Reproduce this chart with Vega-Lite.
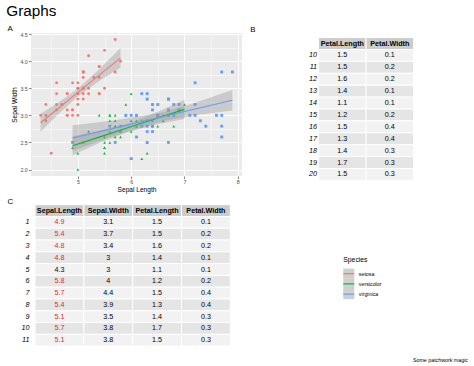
{
  "$schema": "https://vega.github.io/schema/vega-lite/v6.json",
  "background": "white",
  "padding": {"left": 6, "top": 3, "right": 0, "bottom": 0},
  "config": {
    "font": "Liberation Sans",
    "view": {"stroke": null},
    "title": {"fontWeight": "normal", "color": "black", "frame": "group"}
  },
  "datasets": {
    "iris": [
      {"Species":"setosa","SepalLength":5.1,"SepalWidth":3.5},{"Species":"setosa","SepalLength":4.9,"SepalWidth":3.0},{"Species":"setosa","SepalLength":4.7,"SepalWidth":3.2},{"Species":"setosa","SepalLength":4.6,"SepalWidth":3.1},{"Species":"setosa","SepalLength":5.0,"SepalWidth":3.6},
      {"Species":"setosa","SepalLength":5.4,"SepalWidth":3.9},{"Species":"setosa","SepalLength":4.6,"SepalWidth":3.4},{"Species":"setosa","SepalLength":5.0,"SepalWidth":3.4},{"Species":"setosa","SepalLength":4.4,"SepalWidth":2.9},{"Species":"setosa","SepalLength":4.9,"SepalWidth":3.1},
      {"Species":"setosa","SepalLength":5.4,"SepalWidth":3.7},{"Species":"setosa","SepalLength":4.8,"SepalWidth":3.4},{"Species":"setosa","SepalLength":4.8,"SepalWidth":3.0},{"Species":"setosa","SepalLength":4.3,"SepalWidth":3.0},{"Species":"setosa","SepalLength":5.8,"SepalWidth":4.0},
      {"Species":"setosa","SepalLength":5.7,"SepalWidth":4.4},{"Species":"setosa","SepalLength":5.4,"SepalWidth":3.9},{"Species":"setosa","SepalLength":5.1,"SepalWidth":3.5},{"Species":"setosa","SepalLength":5.7,"SepalWidth":3.8},{"Species":"setosa","SepalLength":5.1,"SepalWidth":3.8},
      {"Species":"setosa","SepalLength":5.4,"SepalWidth":3.4},{"Species":"setosa","SepalLength":5.1,"SepalWidth":3.7},{"Species":"setosa","SepalLength":4.6,"SepalWidth":3.6},{"Species":"setosa","SepalLength":5.1,"SepalWidth":3.3},{"Species":"setosa","SepalLength":4.8,"SepalWidth":3.4},
      {"Species":"setosa","SepalLength":5.0,"SepalWidth":3.0},{"Species":"setosa","SepalLength":5.0,"SepalWidth":3.4},{"Species":"setosa","SepalLength":5.2,"SepalWidth":3.5},{"Species":"setosa","SepalLength":5.2,"SepalWidth":3.4},{"Species":"setosa","SepalLength":4.7,"SepalWidth":3.2},
      {"Species":"setosa","SepalLength":4.8,"SepalWidth":3.1},{"Species":"setosa","SepalLength":5.4,"SepalWidth":3.4},{"Species":"setosa","SepalLength":5.2,"SepalWidth":4.1},{"Species":"setosa","SepalLength":5.5,"SepalWidth":4.2},{"Species":"setosa","SepalLength":4.9,"SepalWidth":3.1},
      {"Species":"setosa","SepalLength":5.0,"SepalWidth":3.2},{"Species":"setosa","SepalLength":5.5,"SepalWidth":3.5},{"Species":"setosa","SepalLength":4.9,"SepalWidth":3.6},{"Species":"setosa","SepalLength":4.4,"SepalWidth":3.0},{"Species":"setosa","SepalLength":5.1,"SepalWidth":3.4},
      {"Species":"setosa","SepalLength":5.0,"SepalWidth":3.5},{"Species":"setosa","SepalLength":4.5,"SepalWidth":2.3},{"Species":"setosa","SepalLength":4.4,"SepalWidth":3.2},{"Species":"setosa","SepalLength":5.0,"SepalWidth":3.5},{"Species":"setosa","SepalLength":5.1,"SepalWidth":3.8},
      {"Species":"setosa","SepalLength":4.8,"SepalWidth":3.0},{"Species":"setosa","SepalLength":5.1,"SepalWidth":3.8},{"Species":"setosa","SepalLength":4.6,"SepalWidth":3.2},{"Species":"setosa","SepalLength":5.3,"SepalWidth":3.7},{"Species":"setosa","SepalLength":5.0,"SepalWidth":3.3},
      {"Species":"versicolor","SepalLength":7.0,"SepalWidth":3.2},{"Species":"versicolor","SepalLength":6.4,"SepalWidth":3.2},{"Species":"versicolor","SepalLength":6.9,"SepalWidth":3.1},{"Species":"versicolor","SepalLength":5.5,"SepalWidth":2.3},{"Species":"versicolor","SepalLength":6.5,"SepalWidth":2.8},
      {"Species":"versicolor","SepalLength":5.7,"SepalWidth":2.8},{"Species":"versicolor","SepalLength":6.3,"SepalWidth":3.3},{"Species":"versicolor","SepalLength":4.9,"SepalWidth":2.4},{"Species":"versicolor","SepalLength":6.6,"SepalWidth":2.9},{"Species":"versicolor","SepalLength":5.2,"SepalWidth":2.7},
      {"Species":"versicolor","SepalLength":5.0,"SepalWidth":2.0},{"Species":"versicolor","SepalLength":5.9,"SepalWidth":3.0},{"Species":"versicolor","SepalLength":6.0,"SepalWidth":2.2},{"Species":"versicolor","SepalLength":6.1,"SepalWidth":2.9},{"Species":"versicolor","SepalLength":5.6,"SepalWidth":2.9},
      {"Species":"versicolor","SepalLength":6.7,"SepalWidth":3.1},{"Species":"versicolor","SepalLength":5.6,"SepalWidth":3.0},{"Species":"versicolor","SepalLength":5.8,"SepalWidth":2.7},{"Species":"versicolor","SepalLength":6.2,"SepalWidth":2.2},{"Species":"versicolor","SepalLength":5.6,"SepalWidth":2.5},
      {"Species":"versicolor","SepalLength":5.9,"SepalWidth":3.2},{"Species":"versicolor","SepalLength":6.1,"SepalWidth":2.8},{"Species":"versicolor","SepalLength":6.3,"SepalWidth":2.5},{"Species":"versicolor","SepalLength":6.1,"SepalWidth":2.8},{"Species":"versicolor","SepalLength":6.4,"SepalWidth":2.9},
      {"Species":"versicolor","SepalLength":6.6,"SepalWidth":3.0},{"Species":"versicolor","SepalLength":6.8,"SepalWidth":2.8},{"Species":"versicolor","SepalLength":6.7,"SepalWidth":3.0},{"Species":"versicolor","SepalLength":6.0,"SepalWidth":2.9},{"Species":"versicolor","SepalLength":5.7,"SepalWidth":2.6},
      {"Species":"versicolor","SepalLength":5.5,"SepalWidth":2.4},{"Species":"versicolor","SepalLength":5.5,"SepalWidth":2.4},{"Species":"versicolor","SepalLength":5.8,"SepalWidth":2.7},{"Species":"versicolor","SepalLength":6.0,"SepalWidth":2.7},{"Species":"versicolor","SepalLength":5.4,"SepalWidth":3.0},
      {"Species":"versicolor","SepalLength":6.0,"SepalWidth":3.4},{"Species":"versicolor","SepalLength":6.7,"SepalWidth":3.1},{"Species":"versicolor","SepalLength":6.3,"SepalWidth":2.3},{"Species":"versicolor","SepalLength":5.6,"SepalWidth":3.0},{"Species":"versicolor","SepalLength":5.5,"SepalWidth":2.5},
      {"Species":"versicolor","SepalLength":5.5,"SepalWidth":2.6},{"Species":"versicolor","SepalLength":6.1,"SepalWidth":3.0},{"Species":"versicolor","SepalLength":5.8,"SepalWidth":2.6},{"Species":"versicolor","SepalLength":5.0,"SepalWidth":2.3},{"Species":"versicolor","SepalLength":5.6,"SepalWidth":2.7},
      {"Species":"versicolor","SepalLength":5.7,"SepalWidth":3.0},{"Species":"versicolor","SepalLength":5.7,"SepalWidth":2.9},{"Species":"versicolor","SepalLength":6.2,"SepalWidth":2.9},{"Species":"versicolor","SepalLength":5.1,"SepalWidth":2.5},{"Species":"versicolor","SepalLength":5.7,"SepalWidth":2.8},
      {"Species":"virginica","SepalLength":6.3,"SepalWidth":3.3},{"Species":"virginica","SepalLength":5.8,"SepalWidth":2.7},{"Species":"virginica","SepalLength":7.1,"SepalWidth":3.0},{"Species":"virginica","SepalLength":6.3,"SepalWidth":2.9},{"Species":"virginica","SepalLength":6.5,"SepalWidth":3.0},
      {"Species":"virginica","SepalLength":7.6,"SepalWidth":3.0},{"Species":"virginica","SepalLength":4.9,"SepalWidth":2.5},{"Species":"virginica","SepalLength":7.3,"SepalWidth":2.9},{"Species":"virginica","SepalLength":6.7,"SepalWidth":2.5},{"Species":"virginica","SepalLength":7.2,"SepalWidth":3.6},
      {"Species":"virginica","SepalLength":6.5,"SepalWidth":3.2},{"Species":"virginica","SepalLength":6.4,"SepalWidth":2.7},{"Species":"virginica","SepalLength":6.8,"SepalWidth":3.0},{"Species":"virginica","SepalLength":5.7,"SepalWidth":2.5},{"Species":"virginica","SepalLength":5.8,"SepalWidth":2.8},
      {"Species":"virginica","SepalLength":6.4,"SepalWidth":3.2},{"Species":"virginica","SepalLength":6.5,"SepalWidth":3.0},{"Species":"virginica","SepalLength":7.7,"SepalWidth":3.8},{"Species":"virginica","SepalLength":7.7,"SepalWidth":2.6},{"Species":"virginica","SepalLength":6.0,"SepalWidth":2.2},
      {"Species":"virginica","SepalLength":6.9,"SepalWidth":3.2},{"Species":"virginica","SepalLength":5.6,"SepalWidth":2.8},{"Species":"virginica","SepalLength":7.7,"SepalWidth":2.8},{"Species":"virginica","SepalLength":6.3,"SepalWidth":2.7},{"Species":"virginica","SepalLength":6.7,"SepalWidth":3.3},
      {"Species":"virginica","SepalLength":7.2,"SepalWidth":3.2},{"Species":"virginica","SepalLength":6.2,"SepalWidth":2.8},{"Species":"virginica","SepalLength":6.1,"SepalWidth":3.0},{"Species":"virginica","SepalLength":6.4,"SepalWidth":2.8},{"Species":"virginica","SepalLength":7.2,"SepalWidth":3.0},
      {"Species":"virginica","SepalLength":7.4,"SepalWidth":2.8},{"Species":"virginica","SepalLength":7.9,"SepalWidth":3.8},{"Species":"virginica","SepalLength":6.4,"SepalWidth":2.8},{"Species":"virginica","SepalLength":6.3,"SepalWidth":2.8},{"Species":"virginica","SepalLength":6.1,"SepalWidth":2.6},
      {"Species":"virginica","SepalLength":7.7,"SepalWidth":3.0},{"Species":"virginica","SepalLength":6.3,"SepalWidth":3.4},{"Species":"virginica","SepalLength":6.4,"SepalWidth":3.1},{"Species":"virginica","SepalLength":6.0,"SepalWidth":3.0},{"Species":"virginica","SepalLength":6.9,"SepalWidth":3.1},
      {"Species":"virginica","SepalLength":6.7,"SepalWidth":3.1},{"Species":"virginica","SepalLength":6.9,"SepalWidth":3.1},{"Species":"virginica","SepalLength":5.8,"SepalWidth":2.7},{"Species":"virginica","SepalLength":6.8,"SepalWidth":3.2},{"Species":"virginica","SepalLength":6.7,"SepalWidth":3.3},
      {"Species":"virginica","SepalLength":6.7,"SepalWidth":3.0},{"Species":"virginica","SepalLength":6.3,"SepalWidth":2.5},{"Species":"virginica","SepalLength":6.5,"SepalWidth":3.0},{"Species":"virginica","SepalLength":6.2,"SepalWidth":3.4},{"Species":"virginica","SepalLength":5.9,"SepalWidth":3.0}
    ],
    "band": [
      {"Species":"setosa","SepalLength":4.3,"SepalWidth":2.864,"lo":2.699,"hi":3.029},
      {"Species":"setosa","SepalLength":4.6,"SepalWidth":3.104,"lo":2.992,"hi":3.216},
      {"Species":"setosa","SepalLength":5.0,"SepalWidth":3.423,"lo":3.350,"hi":3.496},
      {"Species":"setosa","SepalLength":5.4,"SepalWidth":3.743,"lo":3.632,"hi":3.853},
      {"Species":"setosa","SepalLength":5.8,"SepalWidth":4.062,"lo":3.881,"hi":4.243},
      {"Species":"versicolor","SepalLength":4.9,"SepalWidth":2.439,"lo":2.265,"hi":2.612},
      {"Species":"versicolor","SepalLength":5.4,"SepalWidth":2.598,"lo":2.487,"hi":2.710},
      {"Species":"versicolor","SepalLength":5.95,"SepalWidth":2.774,"lo":2.697,"hi":2.851},
      {"Species":"versicolor","SepalLength":6.5,"SepalWidth":2.950,"lo":2.836,"hi":3.064},
      {"Species":"versicolor","SepalLength":7.0,"SepalWidth":3.110,"lo":2.933,"hi":3.287},
      {"Species":"virginica","SepalLength":4.9,"SepalWidth":2.583,"lo":2.347,"hi":2.818},
      {"Species":"virginica","SepalLength":5.7,"SepalWidth":2.768,"lo":2.626,"hi":2.911},
      {"Species":"virginica","SepalLength":6.6,"SepalWidth":2.977,"lo":2.894,"hi":3.059},
      {"Species":"virginica","SepalLength":7.2,"SepalWidth":3.116,"lo":3.001,"hi":3.231},
      {"Species":"virginica","SepalLength":7.9,"SepalWidth":3.278,"lo":3.088,"hi":3.469}
    ],
    "tableB": [
      {"row":"10","col":"Petal.Length","val":1.5},{"row":"10","col":"Petal.Width","val":0.1},
      {"row":"11","col":"Petal.Length","val":1.5},{"row":"11","col":"Petal.Width","val":0.2},
      {"row":"12","col":"Petal.Length","val":1.6},{"row":"12","col":"Petal.Width","val":0.2},
      {"row":"13","col":"Petal.Length","val":1.4},{"row":"13","col":"Petal.Width","val":0.1},
      {"row":"14","col":"Petal.Length","val":1.1},{"row":"14","col":"Petal.Width","val":0.1},
      {"row":"15","col":"Petal.Length","val":1.2},{"row":"15","col":"Petal.Width","val":0.2},
      {"row":"16","col":"Petal.Length","val":1.5},{"row":"16","col":"Petal.Width","val":0.4},
      {"row":"17","col":"Petal.Length","val":1.3},{"row":"17","col":"Petal.Width","val":0.4},
      {"row":"18","col":"Petal.Length","val":1.4},{"row":"18","col":"Petal.Width","val":0.3},
      {"row":"19","col":"Petal.Length","val":1.7},{"row":"19","col":"Petal.Width","val":0.3},
      {"row":"20","col":"Petal.Length","val":1.5},{"row":"20","col":"Petal.Width","val":0.3}
    ],
    "tableC": [
      {"row":"1","col":"Sepal.Length","val":4.9},{"row":"1","col":"Sepal.Width","val":3.1},{"row":"1","col":"Petal.Length","val":1.5},{"row":"1","col":"Petal.Width","val":0.1},
      {"row":"2","col":"Sepal.Length","val":5.4},{"row":"2","col":"Sepal.Width","val":3.7},{"row":"2","col":"Petal.Length","val":1.5},{"row":"2","col":"Petal.Width","val":0.2},
      {"row":"3","col":"Sepal.Length","val":4.8},{"row":"3","col":"Sepal.Width","val":3.4},{"row":"3","col":"Petal.Length","val":1.6},{"row":"3","col":"Petal.Width","val":0.2},
      {"row":"4","col":"Sepal.Length","val":4.8},{"row":"4","col":"Sepal.Width","val":3},{"row":"4","col":"Petal.Length","val":1.4},{"row":"4","col":"Petal.Width","val":0.1},
      {"row":"5","col":"Sepal.Length","val":4.3},{"row":"5","col":"Sepal.Width","val":3},{"row":"5","col":"Petal.Length","val":1.1},{"row":"5","col":"Petal.Width","val":0.1},
      {"row":"6","col":"Sepal.Length","val":5.8},{"row":"6","col":"Sepal.Width","val":4},{"row":"6","col":"Petal.Length","val":1.2},{"row":"6","col":"Petal.Width","val":0.2},
      {"row":"7","col":"Sepal.Length","val":5.7},{"row":"7","col":"Sepal.Width","val":4.4},{"row":"7","col":"Petal.Length","val":1.5},{"row":"7","col":"Petal.Width","val":0.4},
      {"row":"8","col":"Sepal.Length","val":5.4},{"row":"8","col":"Sepal.Width","val":3.9},{"row":"8","col":"Petal.Length","val":1.3},{"row":"8","col":"Petal.Width","val":0.4},
      {"row":"9","col":"Sepal.Length","val":5.1},{"row":"9","col":"Sepal.Width","val":3.5},{"row":"9","col":"Petal.Length","val":1.4},{"row":"9","col":"Petal.Width","val":0.3},
      {"row":"10","col":"Sepal.Length","val":5.7},{"row":"10","col":"Sepal.Width","val":3.8},{"row":"10","col":"Petal.Length","val":1.7},{"row":"10","col":"Petal.Width","val":0.3},
      {"row":"11","col":"Sepal.Length","val":5.1},{"row":"11","col":"Sepal.Width","val":3.8},{"row":"11","col":"Petal.Length","val":1.5},{"row":"11","col":"Petal.Width","val":0.3}
    ],
    "species": [{"Species":"setosa"},{"Species":"versicolor"},{"Species":"virginica"}]
  },
  "title": {"text": "Graphs", "anchor": "start", "fontSize": 15.3, "dx": -24.7, "offset": 6},
  "spacing": 3.7,
  "vconcat": [
    {
      "bounds": "flush",
      "spacing": 76.6,
      "hconcat": [
        {
          "width": 211,
          "height": 143,
          "title": {"text": "A", "anchor": "start", "fontSize": 7.8, "dx": -23.4, "offset": -1},
          "view": {"fill": "#EBEBEB", "stroke": null},
          "encoding": {
            "x": {
              "field": "SepalLength", "type": "quantitative", "title": "Sepal Length",
              "scale": {"domain": [4.12, 8.08], "nice": false, "zero": false},
              "axis": {
                "values": [4.5, 5, 5.5, 6, 6.5, 7, 7.5, 8],
                "format": ".0f",
                "labelExpr": "datum.value % 1 === 0 ? datum.label : ''",
                "domain": false, "grid": true, "gridColor": "white",
                "gridWidth": {"condition": {"test": "datum.value % 1 !== 0", "value": 0.5}, "value": 1},
                "tickOpacity": {"condition": {"test": "datum.value % 1 !== 0", "value": 0}, "value": 1},
                "tickColor": "#333333", "tickSize": 2.5, "tickWidth": 0.6,
                "labelColor": "#4D4D4D", "labelFontSize": 5.3, "labelPadding": 1.2,
                "titleFontSize": 6.6, "titleFontWeight": "normal", "titleColor": "black", "titlePadding": 1.5
              }
            },
            "y": {
              "field": "SepalWidth", "type": "quantitative", "title": "Sepal Width",
              "scale": {"domain": [1.88, 4.52], "nice": false, "zero": false},
              "axis": {
                "values": [2, 2.25, 2.5, 2.75, 3, 3.25, 3.5, 3.75, 4, 4.25, 4.5],
                "format": ".1f",
                "labelExpr": "(datum.value * 4) % 2 === 1 ? '' : datum.label",
                "domain": false, "grid": true, "gridColor": "white",
                "gridWidth": {"condition": {"test": "(datum.value * 4) % 2 === 1", "value": 0.5}, "value": 1},
                "tickOpacity": {"condition": {"test": "(datum.value * 4) % 2 === 1", "value": 0}, "value": 1},
                "tickColor": "#333333", "tickSize": 2.5, "tickWidth": 0.6,
                "labelColor": "#4D4D4D", "labelFontSize": 5.3, "labelPadding": 1.2,
                "titleFontSize": 6.6, "titleFontWeight": "normal", "titleColor": "black", "titlePadding": 2.5
              }
            }
          },
          "layer": [
            {
              "data": {"name": "iris"},
              "mark": {"type": "point", "filled": true, "opacity": 1, "size": 8},
              "encoding": {
                "color": {"field": "Species", "type": "nominal", "scale": {"domain": ["setosa", "versicolor", "virginica"], "range": ["#F8766D", "#00BA38", "#619CFF"]}, "legend": null},
                "shape": {"field": "Species", "type": "nominal", "scale": {"domain": ["setosa", "versicolor", "virginica"], "range": ["circle", "triangle-up", "square"]}, "legend": null}
              }
            },
            {
              "data": {"name": "band"},
              "mark": {"type": "area", "fill": "#999999", "fillOpacity": 0.4},
              "encoding": {
                "y": {"field": "lo", "type": "quantitative", "title": "Sepal Width"},
                "y2": {"field": "hi"},
                "detail": {"field": "Species", "type": "nominal"}
              }
            },
            {
              "data": {"name": "band"},
              "mark": {"type": "line", "strokeWidth": 1.1},
              "encoding": {
                "color": {"field": "Species", "type": "nominal", "legend": null}
              }
            }
          ]
        },
        {
          "width": 95,
          "height": 147.4,
          "title": {"text": "B", "anchor": "start", "fontSize": 7.8, "dx": -68.3, "offset": -1},
          "data": {"name": "tableB"},
          "encoding": {
            "x": {"field": "col", "type": "nominal", "scale": {"domain": ["Petal.Length", "Petal.Width"], "paddingInner": 0, "paddingOuter": 0}, "axis": null},
            "y": {"field": "row", "type": "nominal", "title": null,
              "scale": {"domain": ["hdr", "10", "11", "12", "13", "14", "15", "16", "17", "18", "19", "20"], "paddingInner": 0, "paddingOuter": 0.193, "align": 1},
              "axis": {"domain": false, "ticks": false, "labelPadding": 2, "labelFontSize": 7.2, "labelFontStyle": "italic", "labelColor": "black", "labelExpr": "datum.value === 'hdr' ? '' : datum.label"}
            }
          },
          "layer": [
            {"mark": {"type": "rect", "stroke": "white", "strokeWidth": 1},
             "encoding": {"fill": {"condition": {"test": "toNumber(datum.row) % 2 === 0", "value": "#F2F2F2"}, "value": "#E5E5E5"}}},
            {"mark": {"type": "text", "fontSize": 7.2, "color": "black"},
             "encoding": {"text": {"field": "val", "type": "nominal"}}},
            {"transform": [{"aggregate": [{"op": "count", "as": "n"}], "groupby": ["col"]}],
             "mark": {"type": "rect", "fill": "#CCCCCC", "stroke": "white", "strokeWidth": 1},
             "encoding": {"y": {"datum": "hdr", "type": "nominal", "title": null}}},
            {"transform": [{"aggregate": [{"op": "count", "as": "n"}], "groupby": ["col"]}],
             "mark": {"type": "text", "fontSize": 7.2, "fontWeight": "bold", "color": "black"},
             "encoding": {"y": {"datum": "hdr", "type": "nominal", "title": null}, "text": {"field": "col", "type": "nominal"}}}
          ]
        }
      ]
    },
    {
      "bounds": "flush",
      "spacing": 112.3,
      "title": {"text": "Some patchwork magic", "orient": "bottom", "anchor": "end", "fontSize": 5.3, "dx": 437, "offset": 11.3},
      "hconcat": [
        {
          "width": 199.3,
          "height": 141.4,
          "title": {"text": "C", "anchor": "start", "fontSize": 7.8, "dx": -23.4, "offset": -2},
          "data": {"name": "tableC"},
          "encoding": {
            "x": {"field": "col", "type": "nominal", "scale": {"domain": ["Sepal.Length", "Sepal.Width", "Petal.Length", "Petal.Width"], "paddingInner": 0, "paddingOuter": 0.041, "align": 1}, "axis": null},
            "y": {"field": "row", "type": "nominal", "title": null,
              "scale": {"domain": ["hdr", "1", "2", "3", "4", "5", "6", "7", "8", "9", "10", "11"], "paddingInner": 0, "paddingOuter": 0},
              "axis": {"domain": false, "ticks": false, "labelPadding": 2, "labelFontSize": 7.2, "labelFontStyle": "italic", "labelColor": "black", "labelExpr": "datum.value === 'hdr' ? '' : datum.label"}
            }
          },
          "layer": [
            {"mark": {"type": "rect", "stroke": "white", "strokeWidth": 1},
             "encoding": {"fill": {"condition": {"test": "toNumber(datum.row) % 2 === 1", "value": "#F2F2F2"}, "value": "#E5E5E5"}}},
            {"mark": {"type": "text", "fontSize": 7.2},
             "encoding": {"text": {"field": "val", "type": "nominal"},
               "color": {"condition": {"test": "datum.col === 'Sepal.Length' && datum.val > 4.5", "value": "#E0282E"}, "value": "black"}}},
            {"transform": [{"aggregate": [{"op": "count", "as": "n"}], "groupby": ["col"]}],
             "mark": {"type": "rect", "fill": "#CCCCCC", "stroke": "white", "strokeWidth": 1},
             "encoding": {"y": {"datum": "hdr", "type": "nominal", "title": null}}},
            {"transform": [{"aggregate": [{"op": "count", "as": "n"}], "groupby": ["col"]}],
             "mark": {"type": "text", "fontSize": 7.2, "fontWeight": "bold", "color": "black"},
             "encoding": {"y": {"datum": "hdr", "type": "nominal", "title": null}, "text": {"field": "col", "type": "nominal"}}}
          ]
        },
        {
          "width": 11,
          "height": 141.4,
          "title": {"text": "Species", "anchor": "start", "fontSize": 6.8, "dy": 63},
          "data": {"name": "species"},
          "encoding": {
            "y": {"field": "Species", "type": "nominal", "title": null,
              "scale": {"domain": ["setosa", "versicolor", "virginica"], "paddingInner": 0, "paddingOuter": 0, "range": [63.9, 94.5]},
              "axis": {"orient": "right", "domain": false, "ticks": false, "labelPadding": 4, "labelFontSize": 5.3, "labelColor": "black"}
            }
          },
          "layer": [
            {"mark": {"type": "rect", "fill": "#CFCFCF"}},
            {"mark": {"type": "rule", "strokeWidth": 1.2},
             "encoding": {"color": {"field": "Species", "type": "nominal", "scale": {"domain": ["setosa", "versicolor", "virginica"], "range": ["#F8766D", "#00BA38", "#619CFF"]}, "legend": null}}}
          ]
        }
      ]
    }
  ]
}
